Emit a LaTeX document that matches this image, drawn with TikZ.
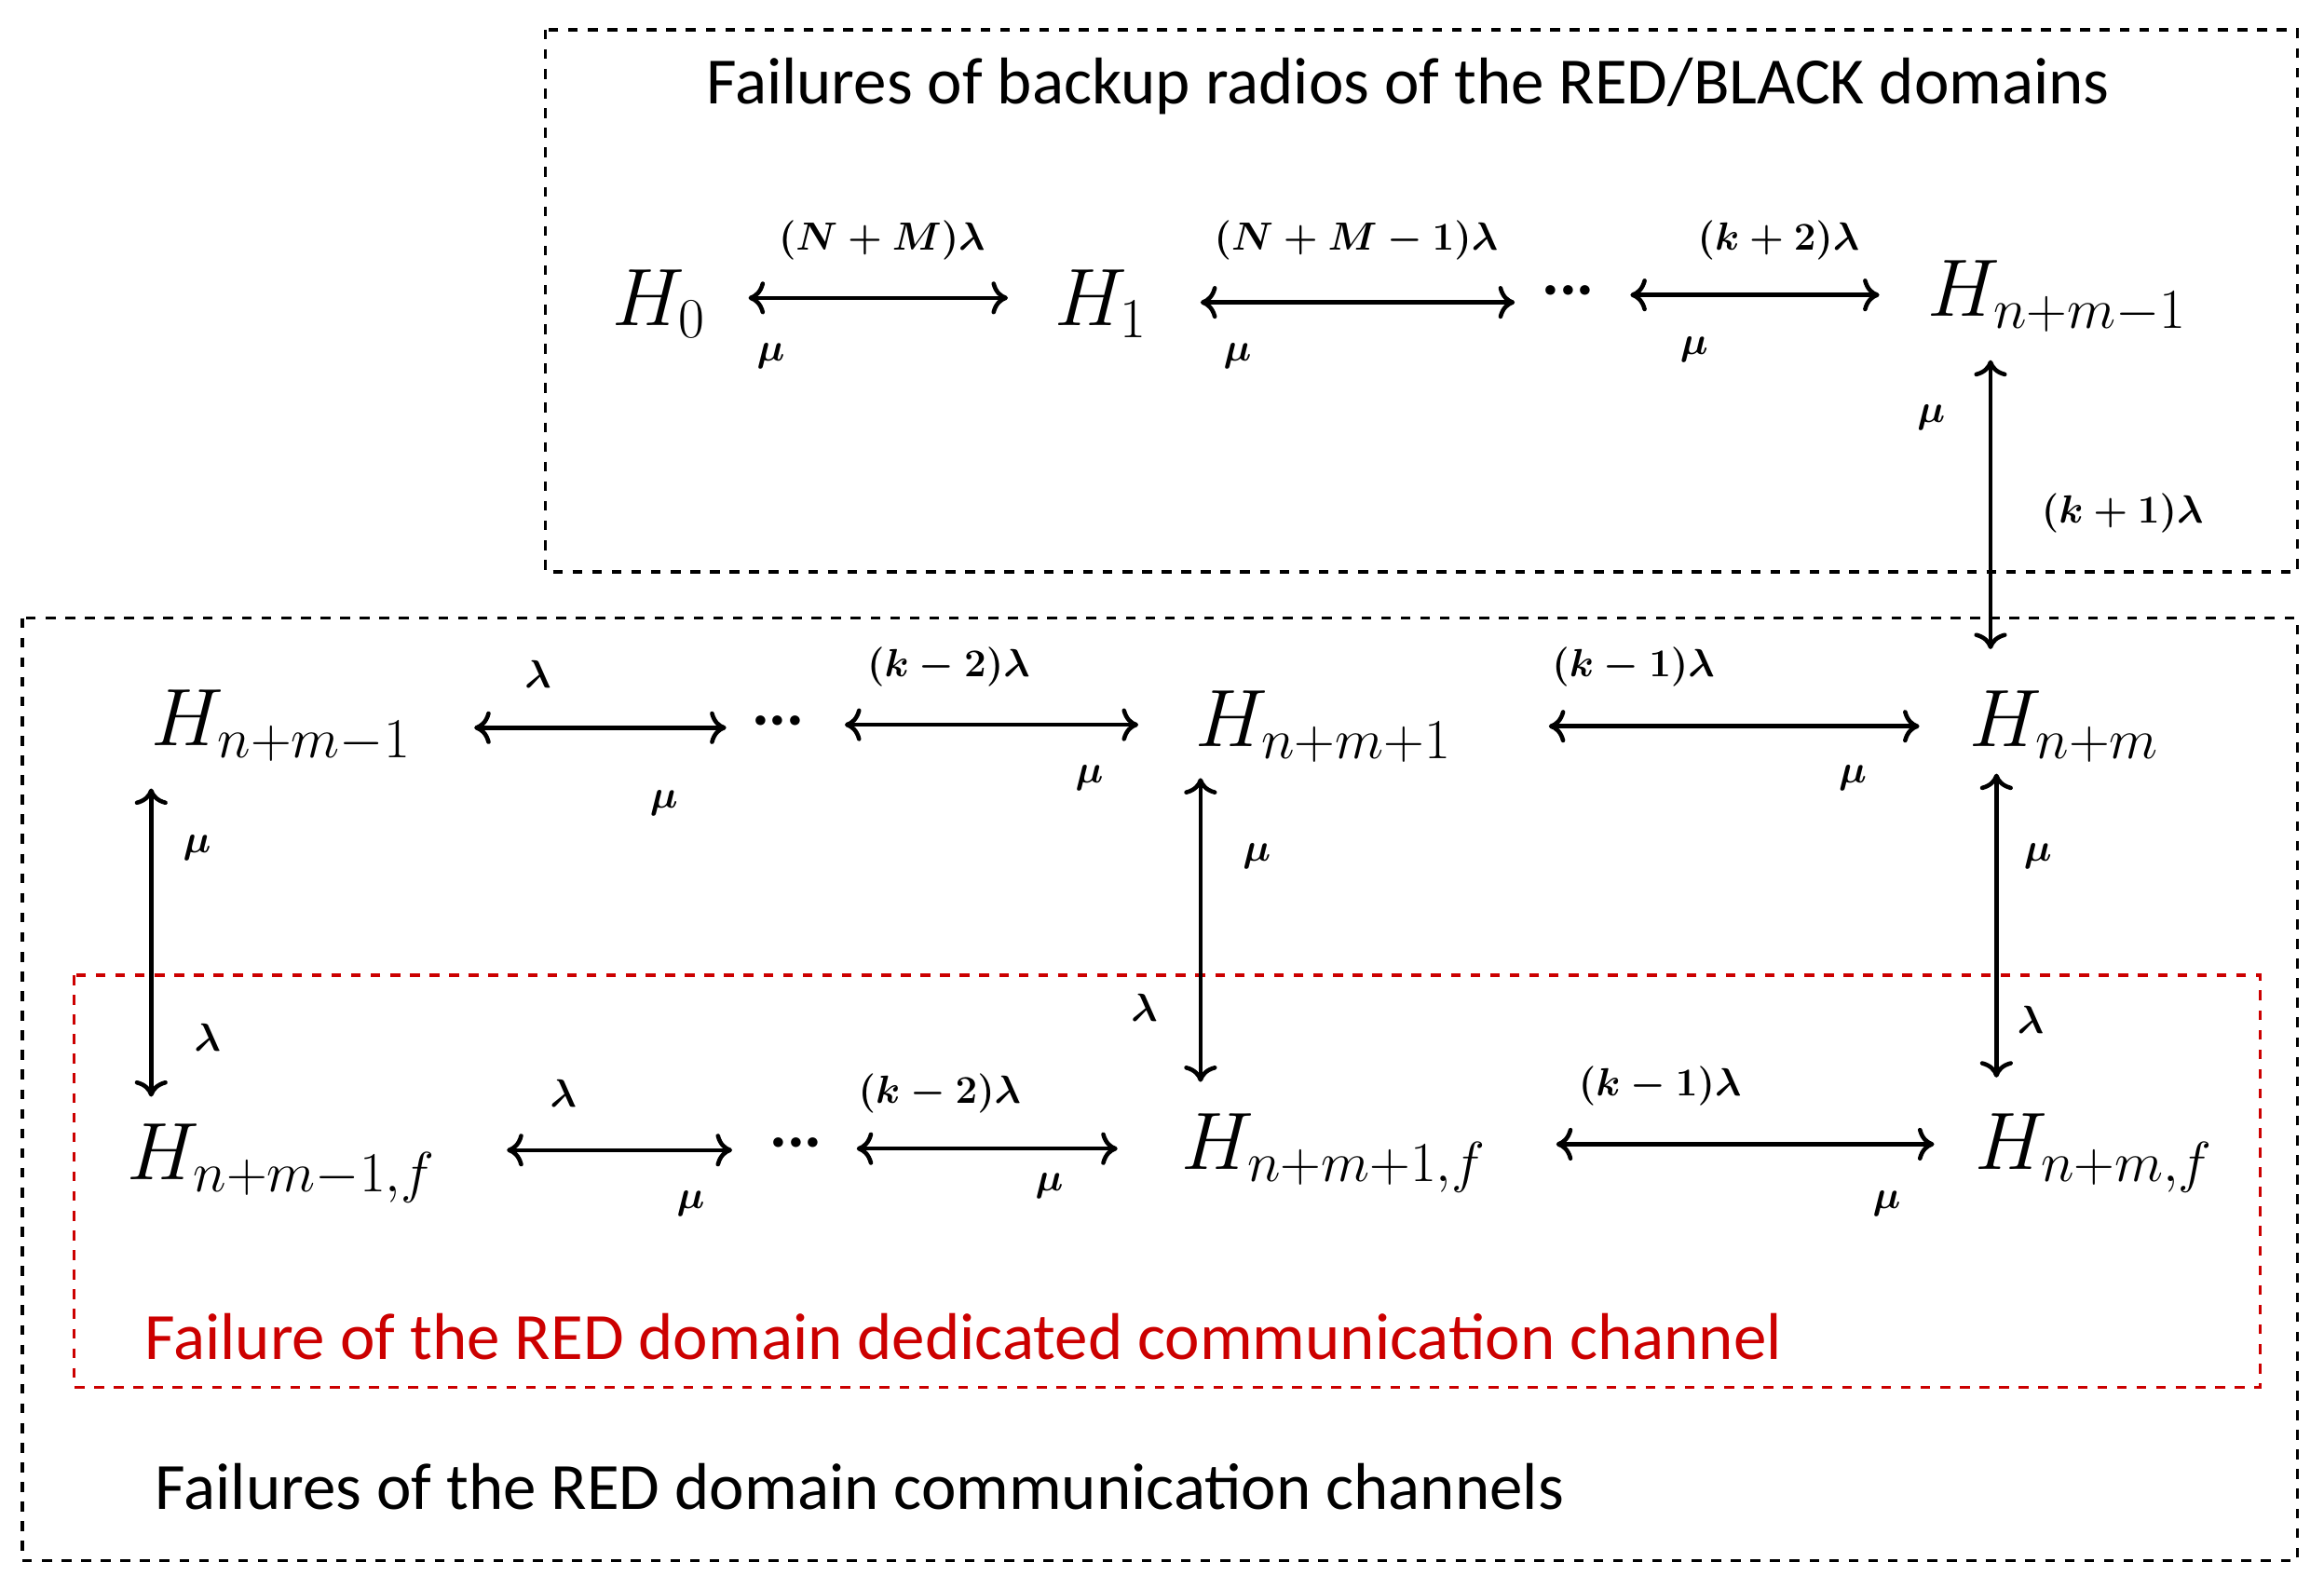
\documentclass[tikz,border=0pt]{standalone}
\usepackage{fontspec}
\setmainfont{Carlito}
\usepackage{amsmath,bm}
\usetikzlibrary{arrows.meta}
\begin{document}
\begin{tikzpicture}[x=0.01591cm,y=-0.01591cm,
 st/.style={font=\fontsize{26}{30}\selectfont},
 dt/.style={font=\fontsize{20}{24}\selectfont\bfseries},
 lb/.style={font=\fontsize{13}{15}\selectfont},
 tx/.style={font=\fontsize{20.2}{24}\selectfont},
 ar/.style={<->,line width=1.3pt,>={To[length=5pt,width=10pt]}},
 box/.style={dashed,line width=1pt}]
\useasboundingbox (0,0) rectangle (1568,1072);
\draw[box] (368,20) rectangle (1550,386);
\draw[box] (15,417) rectangle (1550,1053);
\draw[box,red!80!black] (50,658) rectangle (1525,936);
\node[tx] (t1) at (950,58) {Failures of backup radios of the RED/BLACK domains};
\node[tx,anchor=west] (t2) at (97,1003) {Failures of the RED domain communication channels};
\node[tx,anchor=west,text=red!80!black] (t3) at (90,902) {Failure of the RED domain dedicated communication channel};
% states
\node[st] (h0) at (445,205) {$H_0$};
\node[st] (h1) at (743,205) {$H_1$};
\node[dt] (d1) at (1058,196) {...};
\node[st] (ht) at (1388,200) {$H_{n+m-1}$};
\node[st] (a1) at (190,490) {$H_{n+m-1}$};
\node[dt] (d2) at (525,486) {...};
\node[st] (a2) at (893,490) {$H_{n+m+1}$};
\node[st] (a3) at (1393,490) {$H_{n+m}$};
\node[st] (b1) at (190,785) {$H_{n+m-1,f}$};
\node[dt] (d3) at (537,771) {...};
\node[st] (b2) at (900,778) {$H_{n+m+1,f}$};
\node[st] (b3) at (1413,778) {$H_{n+m,f}$};
% arrow endpoints
\foreach \n/\x/\y in {p1/505/201,q1/680/201,p2/810/204,q2/1022/204,p3/1100/199,q3/1268/199,
 p4/1343/243,q4/1343/438,p5/320/491,q5/490/491,p6/570/489,q6/768/489,p7/1045/490,q7/1295/490,
 p8/102/532,q8/102/740,p9/810/525,q9/810/730,p10/1347/522,q10/1347/727,
 p11/342/776,q11/494/776,p12/578/775,q12/754/775,p13/1050/772,q13/1305/772}
 \coordinate (\n) at (\x,\y);
\foreach \i in {1,...,13} \draw[ar] (p\i) -- (q\i);
\boldmath
\foreach \n/\x/\y/\t in {l1/595/162/{(N+M)\lambda},m1/520/240/{\mu},
 l2/915/162/{(N+M-1)\lambda},m2/835/240/{\mu},
 l3/1200/162/{(k+2)\lambda},m3/1143/236/{\mu},
 m4/1303/282/{\mu},l4/1432/346/{(k+1)\lambda},
 l5/363/455/{\lambda},m5/448/542/{\mu},
 l6/640/450/{(k-2)\lambda},m6/735/525/{\mu},
 l7/1102/450/{(k-1)\lambda},m7/1250/525/{\mu},
 m8/133/572/{\mu},l8/140/700/{\lambda},
 m9/848/578/{\mu},l9/772/680/{\lambda},
 m10/1375/578/{\mu},l10/1370/688/{\lambda},
 l11/380/738/{\lambda},m11/466/812/{\mu},
 l12/634/738/{(k-2)\lambda},m12/708/800/{\mu},
 l13/1120/733/{(k-1)\lambda},m13/1273/812/{\mu}}
 \node[lb] (\n) at (\x,\y) {$\bm{\t}$};
\end{tikzpicture}
\end{document}
